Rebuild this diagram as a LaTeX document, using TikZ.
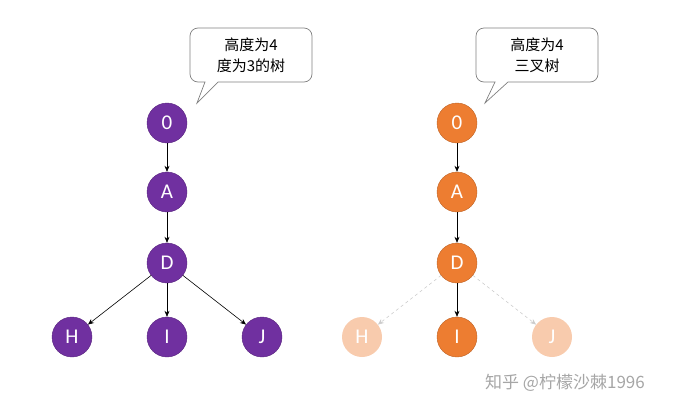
\documentclass[tikz,border=0pt]{standalone}
\usepackage{fontspec}
\setmainfont{Carlito}
\newfontfamily\cjk{Noto Sans CJK SC}
\usetikzlibrary{arrows.meta}
\definecolor{pur}{HTML}{7030A0}
\definecolor{org}{HTML}{ED7D31}
\definecolor{fad}{HTML}{F8CBAD}
\begin{document}
\begin{tikzpicture}[x=1pt,y=-1pt,
  nd/.style={circle,minimum size=40pt,inner sep=0pt,text=white,font=\fontsize{21}{21}\selectfont,draw=#1!80!black,fill=#1},
  fd/.style={circle,minimum size=40pt,inner sep=0pt,text=white,font=\fontsize{21}{21}\selectfont,fill=fad},
  ar/.style={-{Stealth[length=6pt,width=5pt]},black,line width=0.6pt},
  fa/.style={-{Stealth[length=6pt,width=5pt]},gray!40,dashed,line width=0.6pt},
  co/.style={draw=gray,fill=white,line width=0.7pt},
  ct/.style={font=\cjk\fontsize{15}{21}\selectfont,align=center}]
\useasboundingbox (0,0) rectangle (677,410);
% left
\node[nd=pur] (l0) at (167,123) {0};
\node[nd=pur] (lA) at (167,192) {A};
\node[nd=pur] (lD) at (167,263) {D};
\node[nd=pur] (lH) at (72,337) {H};
\node[nd=pur] (lI) at (167,337) {I};
\node[nd=pur] (lJ) at (262,337) {J};
\draw[ar] (l0)--(lA); \draw[ar] (lA)--(lD);
\draw[ar] (lD)--(lH); \draw[ar] (lD)--(lI); \draw[ar] (lD)--(lJ);
% right
\node[nd=org] (r0) at (457,123) {0};
\node[nd=org] (rA) at (457,192) {A};
\node[nd=org] (rD) at (457,263) {D};
\node[fd] (rH) at (362,337) {H};
\node[nd=org] (rI) at (457,337) {I};
\node[fd] (rJ) at (552,337) {J};
\draw[ar] (r0)--(rA); \draw[ar] (rA)--(rD); \draw[ar] (rD)--(rI);
\draw[fa] (rD)--(rH); \draw[fa] (rD)--(rJ);
% callouts
\draw[co] (205,82) [rounded corners=8pt] -- (190,82) -- (190,28) -- (312,28) -- (312,82) [sharp corners] -- (218,82) -- (197,103) -- cycle;
\node[ct] (lt) at (251,55) {高度为4\\度为3的树};
\draw[co] (495,82) [rounded corners=8pt] -- (476,82) -- (476,28) -- (598,28) -- (598,82) [sharp corners] -- (508,82) -- (485,103) -- cycle;
\node[ct] (rt) at (537,55) {高度为4\\三叉树};
\node[font=\cjk\fontsize{17}{17}\selectfont,text=gray!70] (wm) at (565,383) {知乎 @柠檬沙棘1996};
\end{tikzpicture}
\end{document}
